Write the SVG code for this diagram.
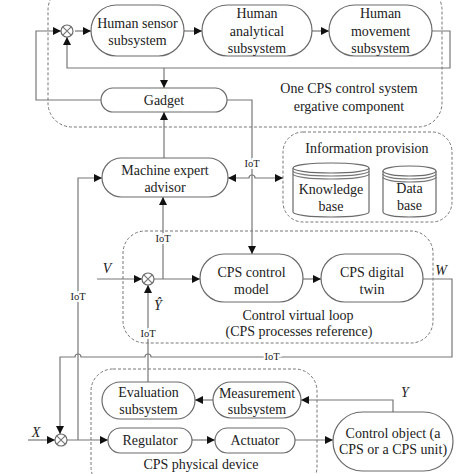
<svg xmlns="http://www.w3.org/2000/svg" width="474" height="474" viewBox="0 0 474 474" font-family="'Liberation Serif', 'Times New Roman', 'DejaVu Serif', serif">
<defs>
<marker id="ah" viewBox="0 0 10 10" refX="10" refY="5" markerWidth="9" markerHeight="8" markerUnits="userSpaceOnUse" orient="auto">
<path d="M0,0 L10,5 L0,10 Z" fill="#111"/>
</marker>
<marker id="ahs" viewBox="0 0 10 10" refX="10" refY="5" markerWidth="9" markerHeight="8" markerUnits="userSpaceOnUse" orient="auto-start-reverse">
<path d="M0,0 L10,5 L0,10 Z" fill="#111"/>
</marker>
</defs>
<style>
.n{fill:#fff;stroke:#6a6a6a;stroke-width:1.2}
.d{fill:none;stroke:#777;stroke-width:1;stroke-dasharray:3,2}
.c{fill:none;stroke:#777;stroke-width:1.2}
.a{marker-end:url(#ah)}
text{font-family:'Liberation Serif','Times New Roman','DejaVu Serif',serif;font-size:14px;fill:#222;text-anchor:middle}
.s{font-size:10.5px;paint-order:stroke;stroke:#fff;stroke-width:4px}
.i{font-style:italic}
</style>
<rect width="474" height="474" fill="#fff"/>

<g id="boxes">
<rect class="d" x="48" y="-14" width="394" height="141" rx="24"/>
<rect class="d" x="283" y="132" width="169" height="90" rx="20"/>
<rect class="d" x="123" y="231" width="310" height="112" rx="22"/>
<rect class="d" x="91" y="369" width="226" height="120" rx="22"/>
<text x="349" y="93">One CPS control system</text>
<text x="349" y="111">ergative component</text>
<text x="298" y="320">Control virtual loop</text>
<text x="299" y="336">(CPS processes reference)</text>
<text x="201" y="469">CPS physical device</text>
</g>

<g id="connectors">
<path class="c a" d="M75,31 H91"/>
<path class="c a" d="M184,31 H202"/>
<path class="c a" d="M312,31 H329"/>
<path class="c a" d="M432,31 H450 V68 H67 V37"/>
<path class="c a" d="M164,68 V88"/>
<path class="c a" d="M101,100 H36 V31 H61"/>
<path class="c a" d="M164,158 V112"/>
<path class="c" d="M227,100 H252 V250"/>
<path class="c a" d="M252,250 V254"/>
<path class="c" d="M228,178 H249 A3,3 0 0 1 255,178 H283" marker-start="url(#ahs)" marker-end="url(#ah)"/>
<path class="c a" d="M78,440 V178 H102"/>
<path class="c a" d="M97,279 H142"/>
<path class="c a" d="M154,279 H200"/>
<path class="c a" d="M163,279 V197"/>
<path class="c a" d="M303,279 H321"/>
<path class="c a" d="M148,382 V285"/>
<path class="c a" d="M423,279 H452 V357 H151 A3,3 0 0 0 145,357 H81 A3,3 0 0 0 75,357 H60 V434"/>
<path class="c a" d="M28,440 H55"/>
<path class="c a" d="M67,440 H108"/>
<path class="c a" d="M192,440 H215"/>
<path class="c a" d="M295,440 H333"/>
<path class="c a" d="M213,400 H195"/>
<path class="c a" d="M393,412 V400 H301"/>
<text class="s" x="252" y="167">IoT</text>
<text class="s" x="163" y="242">IoT</text>
<text class="s" x="78" y="300">IoT</text>
<text class="s" x="148" y="337">IoT</text>
<text class="s" x="272" y="360">IoT</text>
<text class="i" x="107" y="273">V</text>
<text class="i" x="158" y="310">Ŷ</text>
<text class="i" x="441" y="275">W</text>
<text class="i" x="36" y="437">X</text>
<text class="i" x="405" y="397">Y</text>
</g>

<g id="sum1">
<circle class="n" cx="67" cy="31" r="6"/>
<path class="c" d="M62.8,26.8 L71.2,35.2 M71.2,26.8 L62.8,35.2" stroke-width="1"/>
</g>
<g id="sum2">
<circle class="n" cx="148" cy="279" r="6"/>
<path class="c" d="M143.8,274.8 L152.2,283.2 M152.2,274.8 L143.8,283.2" stroke-width="1"/>
</g>
<g id="sum3">
<circle class="n" cx="61" cy="440" r="6"/>
<path class="c" d="M56.8,435.8 L65.2,444.2 M65.2,435.8 L56.8,444.2" stroke-width="1"/>
</g>

<g id="human-sensor">
<rect class="n" x="91" y="5" width="93" height="51" rx="25.5"/>
<text x="137.5" y="28">Human sensor</text>
<text x="137.5" y="45">subsystem</text>
</g>
<g id="human-analytical">
<rect class="n" x="202" y="5" width="110" height="51" rx="25.5"/>
<text x="257" y="18">Human</text>
<text x="257" y="35.5">analytical</text>
<text x="257" y="53">subsystem</text>
</g>
<g id="human-movement">
<rect class="n" x="329" y="5" width="103" height="51" rx="25.5"/>
<text x="380.5" y="18">Human</text>
<text x="380.5" y="35.5">movement</text>
<text x="380.5" y="53">subsystem</text>
</g>
<g id="gadget">
<rect class="n" x="101" y="88" width="126" height="24" rx="12"/>
<text x="164" y="105">Gadget</text>
</g>
<g id="machine-expert">
<rect class="n" x="102" y="158" width="126" height="39" rx="19.5"/>
<text x="165" y="175">Machine expert</text>
<text x="165" y="192">advisor</text>
</g>
<g id="information-provision">
<text x="367" y="153">Information provision</text>
<g id="knowledge-base">
<path class="n" d="M293,168 V212 A38,5 0 0 0 369,212 V168"/>
<ellipse class="n" cx="331" cy="168" rx="38" ry="5"/>
<path class="c" d="M293,171 A38,5 0 0 0 369,171 M293,174 A38,5 0 0 0 369,174" stroke="#6a6a6a"/>
<text x="331" y="194">Knowledge</text>
<text x="331" y="211">base</text>
</g>
<g id="data-base">
<path class="n" d="M383,171 V212 A26.5,5 0 0 0 436,212 V171"/>
<ellipse class="n" cx="409.5" cy="171" rx="26.5" ry="5"/>
<path class="c" d="M383,174 A26.5,5 0 0 0 436,174 M383,177 A26.5,5 0 0 0 436,177" stroke="#6a6a6a"/>
<text x="409.5" y="193">Data</text>
<text x="409.5" y="210">base</text>
</g>
</g>
<g id="cps-control-model">
<rect class="n" x="200" y="254" width="103" height="48" rx="24"/>
<text x="251.5" y="277">CPS control</text>
<text x="251.5" y="294">model</text>
</g>
<g id="cps-digital-twin">
<rect class="n" x="321" y="254" width="102" height="48" rx="24"/>
<text x="372" y="277">CPS digital</text>
<text x="372" y="294">twin</text>
</g>
<g id="evaluation">
<rect class="n" x="102" y="382" width="93" height="37" rx="18.5"/>
<text x="148.5" y="397">Evaluation</text>
<text x="148.5" y="414">subsystem</text>
</g>
<g id="measurement">
<rect class="n" x="213" y="382" width="88" height="36" rx="18"/>
<text x="257" y="398">Measurement</text>
<text x="257" y="414">subsystem</text>
</g>
<g id="regulator">
<rect class="n" x="108" y="428" width="84" height="25" rx="12.5"/>
<text x="150" y="445">Regulator</text>
</g>
<g id="actuator">
<rect class="n" x="215" y="428" width="80" height="25" rx="12.5"/>
<text x="255" y="445">Actuator</text>
</g>
<g id="control-object">
<rect class="n" x="333" y="412" width="120" height="59" rx="29.5"/>
<text x="393" y="438">Control object (a</text>
<text x="393" y="454">CPS or a CPS unit)</text>
</g>
</svg>
